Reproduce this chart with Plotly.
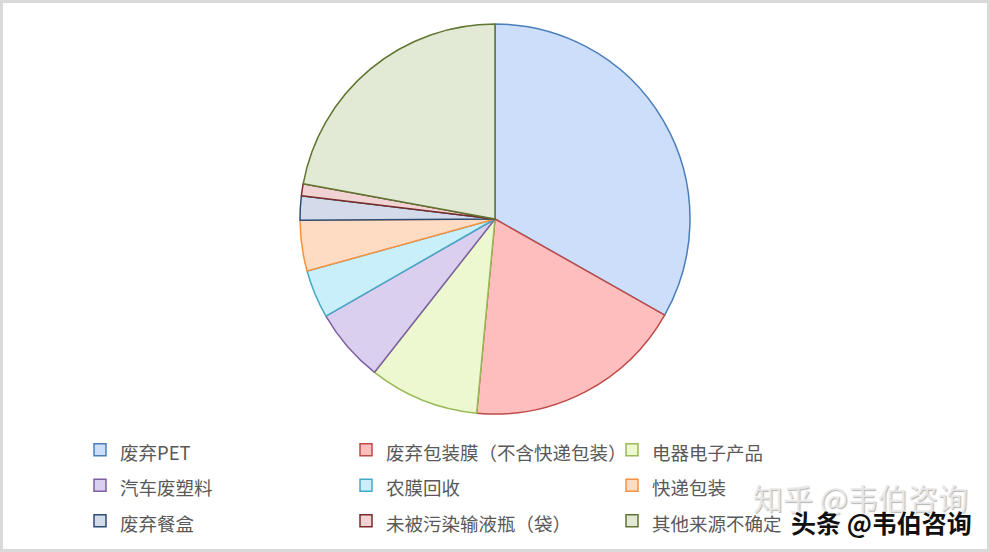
import plotly.graph_objects as go

labels = ["废弃PET", "废弃包装膜（不含快递包装）", "电器电子产品", "汽车废塑料", "农膜回收",
          "快递包装", "废弃餐盒", "未被污染输液瓶（袋）", "其他来源不确定"]
values = [33.2, 18.3, 9.1, 6.1, 4.0, 4.2, 2.0, 1.0, 22.1]

fill_colors = ["#cddefb", "#ffbebe", "#edf8d0", "#dbcff0", "#c8effa",
               "#fedcc4", "#d3dbea", "#f2d3d3", "#e2ead6"]
line_colors = ["#4a7ebb", "#be4b48", "#98b954", "#7d60a0", "#46aac5",
               "#f69240", "#2c4d75", "#772c2a", "#5f7530"]

W, H = 990, 552
cx, cy, r = 495, 219, 195

# legend text shown at 18.5px while row spacing follows the legend font size
legend_labels = ['<span style="font-size:18.5px">%s</span>' % s for s in labels]

fig = go.Figure()
fig.add_trace(go.Pie(
    labels=legend_labels,
    values=values,
    sort=False,
    direction="clockwise",
    rotation=0,
    textinfo="none",
    hoverinfo="label+percent",
    marker=dict(colors=fill_colors, line=dict(color=line_colors, width=1.5)),
    domain=dict(x=[(cx - r) / W, (cx + r) / W], y=[(H - cy - r) / H, (H - cy + r) / H]),
))

fig.update_layout(
    width=W, height=H,
    margin=dict(l=0, r=0, t=0, b=0),
    paper_bgcolor="white",
    plot_bgcolor="white",
    showlegend=True,
    legend=dict(
        orientation="h",
        x=80 / W, xanchor="left",
        y=1 - 427 / H, yanchor="top",
        entrywidth=221, entrywidthmode="pixels",
        font=dict(family="Noto Sans CJK SC", size=25, color="#595959"),
        traceorder="normal",
        bgcolor="rgba(0,0,0,0)",
    ),
    shapes=[dict(type="rect", xref="paper", yref="paper",
                 x0=1.5 / W, x1=1 - 1.5 / W, y0=1.5 / H, y1=1 - 1.5 / H,
                 line=dict(color="#d9d9d9", width=3), layer="below")],
    annotations=[
        dict(text="知乎 @韦伯咨询", x=860 / W, y=1 - 497 / H, xref="paper", yref="paper",
             showarrow=False, xanchor="center", yanchor="middle",
             font=dict(family="Noto Sans CJK SC", size=30, color="rgba(235,235,235,0.9)",
                       shadow="1px 1px 1px rgba(120,120,120,0.6)")),
        dict(text="头条 @韦伯咨询", x=881 / W, y=1 - 522 / H, xref="paper", yref="paper",
             showarrow=False, xanchor="center", yanchor="middle",
             font=dict(family="Noto Sans CJK SC", size=25, color="#111111", weight="bold",
                       shadow="0 0 2px white, 0 0 2px white, 0 0 3px white")),
    ],
)

fig.write_html("out.html", config={"displayModeBar": False},
               post_script="document.body.style.margin='0';")
